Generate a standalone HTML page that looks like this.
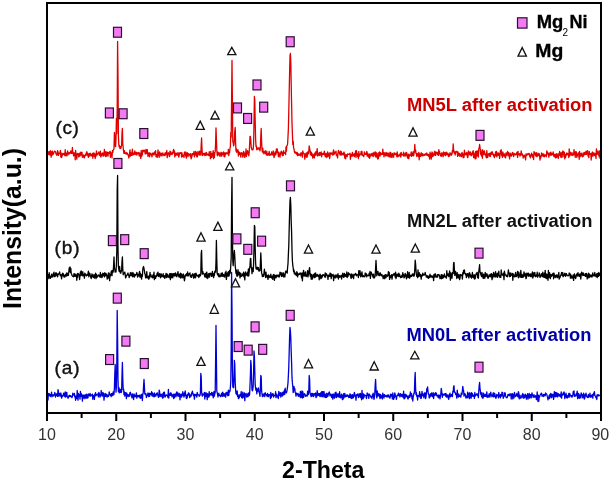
<!DOCTYPE html>
<html><head><meta charset="utf-8"><style>
html,body{margin:0;padding:0;background:#fff;}
body{width:611px;height:481px;overflow:hidden;}
svg{display:block;}
.sq{fill:#f47af4;stroke:#2a1030;stroke-width:1.2;}
.tr{fill:#fff;stroke:#111;stroke-width:1.3;stroke-linejoin:miter;}
.tl{font-family:"Liberation Sans",Arial,sans-serif;font-size:16px;fill:#333;text-anchor:middle;}
.b{font-family:"Liberation Sans",Arial,sans-serif;font-weight:bold;}
.r{font-family:"Liberation Sans",Arial,sans-serif;}
</style></head><body>
<svg width="611" height="481" viewBox="0 0 611 481">
<rect width="611" height="481" fill="#fff"/>
<polyline points="48.00,154.7 48.40,151.9 48.80,154.5 49.20,151.7 49.60,154.3 50.00,155.0 50.40,150.7 50.80,152.5 51.20,157.1 51.60,152.0 52.00,154.9 52.40,151.1 52.80,154.9 53.20,153.8 53.60,153.6 54.00,152.1 54.40,151.4 54.80,151.2 55.20,151.6 55.60,151.8 56.00,153.9 56.40,154.5 56.80,155.3 57.20,153.8 57.60,150.7 58.00,151.7 58.40,155.4 58.80,154.4 59.20,153.2 59.60,152.9 60.00,153.2 60.40,150.4 60.80,157.0 61.20,152.9 61.60,157.5 62.00,155.5 62.40,155.0 62.80,153.5 63.20,154.7 63.60,153.6 64.00,153.5 64.40,153.2 64.80,155.7 65.20,149.7 65.60,155.6 66.00,153.3 66.40,153.2 66.80,155.9 67.20,154.9 67.60,150.8 68.00,152.9 68.40,152.6 68.80,154.5 69.20,152.6 69.60,153.3 70.00,152.4 70.40,153.1 70.80,150.9 71.20,153.4 71.60,151.7 72.00,153.3 72.40,147.5 72.80,153.2 73.20,152.4 73.60,155.8 74.00,154.2 74.40,153.1 74.80,152.9 75.20,159.8 75.60,150.4 76.00,155.4 76.40,154.1 76.80,159.2 77.20,153.5 77.60,154.0 78.00,153.5 78.40,154.8 78.80,157.0 79.20,154.5 79.60,153.2 80.00,156.1 80.40,154.4 80.80,152.1 81.20,152.3 81.60,155.1 82.00,152.3 82.40,157.4 82.80,155.7 83.20,156.7 83.60,154.9 84.00,157.7 84.40,157.9 84.80,155.5 85.20,155.8 85.60,154.1 86.00,155.2 86.40,153.0 86.80,151.6 87.20,155.2 87.60,153.1 88.00,155.7 88.40,157.4 88.80,154.0 89.20,153.9 89.60,156.1 90.00,153.2 90.40,153.7 90.80,154.5 91.20,156.0 91.60,154.8 92.00,154.1 92.40,153.8 92.80,158.2 93.20,152.9 93.60,155.8 94.00,153.1 94.40,156.3 94.80,153.9 95.20,158.5 95.60,156.1 96.00,156.1 96.40,151.0 96.80,154.3 97.20,154.9 97.60,153.7 98.00,153.4 98.40,153.2 98.80,151.9 99.20,154.9 99.60,155.3 100.00,155.4 100.40,151.1 100.80,156.9 101.20,156.2 101.60,155.2 102.00,153.4 102.40,154.8 102.80,152.9 103.20,156.1 103.60,153.2 104.00,155.6 104.40,149.5 104.80,154.5 105.20,151.8 105.60,156.5 106.00,151.7 106.40,156.2 106.80,153.9 107.20,152.1 107.60,153.1 108.00,156.1 108.40,152.4 108.80,152.7 109.20,153.3 109.60,152.1 110.00,151.4 110.40,157.3 110.80,152.5 111.20,153.3 111.60,153.6 112.00,157.9 112.40,150.6 112.80,152.6 113.20,149.8 113.60,149.8 114.00,148.8 114.40,132.5 114.80,135.4 115.20,145.8 115.60,146.6 116.00,139.0 116.40,118.5 116.80,133.5 117.20,109.3 117.60,41.5 118.00,76.3 118.40,135.3 118.80,144.7 119.20,146.9 119.60,145.5 120.00,148.6 120.40,146.7 120.80,148.3 121.20,146.5 121.60,145.8 122.00,133.0 122.40,128.5 122.80,144.0 123.20,147.5 123.60,151.7 124.00,153.3 124.40,150.7 124.80,153.3 125.20,152.7 125.60,153.9 126.00,153.6 126.40,152.5 126.80,154.0 127.20,153.0 127.60,154.3 128.00,155.1 128.40,154.9 128.80,158.0 129.20,155.8 129.60,152.7 130.00,149.9 130.40,156.2 130.80,152.7 131.20,155.1 131.60,155.4 132.00,152.9 132.40,149.1 132.80,155.1 133.20,152.8 133.60,154.4 134.00,154.4 134.40,153.7 134.80,150.9 135.20,154.7 135.60,153.1 136.00,152.3 136.40,152.4 136.80,155.1 137.20,154.0 137.60,153.3 138.00,152.4 138.40,153.7 138.80,152.8 139.20,155.8 139.60,153.0 140.00,155.3 140.40,156.5 140.80,158.4 141.20,150.4 141.60,156.4 142.00,153.1 142.40,154.8 142.80,150.1 143.20,151.7 143.60,151.0 144.00,150.2 144.40,150.1 144.80,151.5 145.20,153.9 145.60,153.8 146.00,149.3 146.40,153.5 146.80,150.8 147.20,149.6 147.60,152.6 148.00,156.4 148.40,153.5 148.80,153.2 149.20,152.6 149.60,156.8 150.00,153.9 150.40,154.4 150.80,153.1 151.20,154.9 151.60,154.8 152.00,156.8 152.40,154.0 152.80,153.0 153.20,154.3 153.60,153.2 154.00,155.0 154.40,152.3 154.80,151.9 155.20,154.2 155.60,150.7 156.00,156.7 156.40,155.5 156.80,154.6 157.20,157.3 157.60,154.5 158.00,149.9 158.40,153.9 158.80,155.6 159.20,157.3 159.60,151.9 160.00,153.7 160.40,153.4 160.80,155.9 161.20,153.2 161.60,154.7 162.00,155.8 162.40,153.2 162.80,152.9 163.20,154.4 163.60,155.3 164.00,155.3 164.40,154.1 164.80,155.7 165.20,152.6 165.60,154.9 166.00,153.1 166.40,154.2 166.80,150.5 167.20,157.6 167.60,153.5 168.00,154.1 168.40,152.7 168.80,153.4 169.20,156.1 169.60,156.5 170.00,151.2 170.40,154.7 170.80,151.7 171.20,154.2 171.60,154.2 172.00,154.6 172.40,152.7 172.80,153.7 173.20,151.0 173.60,149.3 174.00,152.8 174.40,150.8 174.80,156.9 175.20,153.4 175.60,153.1 176.00,155.7 176.40,153.2 176.80,154.0 177.20,154.1 177.60,155.1 178.00,152.4 178.40,155.8 178.80,157.0 179.20,155.0 179.60,152.8 180.00,152.8 180.40,153.4 180.80,152.6 181.20,152.6 181.60,157.0 182.00,152.8 182.40,156.6 182.80,155.4 183.20,155.3 183.60,154.9 184.00,157.5 184.40,152.2 184.80,153.7 185.20,151.9 185.60,155.2 186.00,156.5 186.40,158.0 186.80,152.5 187.20,153.9 187.60,153.0 188.00,156.6 188.40,153.6 188.80,155.1 189.20,154.3 189.60,155.0 190.00,154.0 190.40,156.9 190.80,153.7 191.20,158.9 191.60,157.1 192.00,156.4 192.40,153.6 192.80,153.7 193.20,154.5 193.60,153.3 194.00,151.5 194.40,156.9 194.80,154.9 195.20,155.4 195.60,151.4 196.00,154.2 196.40,152.4 196.80,156.8 197.20,157.0 197.60,155.5 198.00,151.4 198.40,152.9 198.80,153.9 199.20,155.0 199.60,151.2 200.00,155.0 200.40,151.5 200.80,154.9 201.20,144.8 201.60,138.0 202.00,148.6 202.40,155.6 202.80,154.0 203.20,154.8 203.60,153.6 204.00,153.3 204.40,154.1 204.80,155.7 205.20,153.2 205.60,155.4 206.00,154.5 206.40,152.3 206.80,154.7 207.20,155.1 207.60,154.1 208.00,154.4 208.40,155.1 208.80,155.6 209.20,151.7 209.60,155.0 210.00,154.6 210.40,158.7 210.80,151.3 211.20,157.6 211.60,154.0 212.00,157.3 212.40,153.4 212.80,154.2 213.20,150.6 213.60,158.6 214.00,152.9 214.40,157.4 214.80,152.4 215.20,151.8 215.60,143.2 216.00,128.0 216.40,138.8 216.80,150.1 217.20,155.1 217.60,155.8 218.00,152.2 218.40,154.4 218.80,152.9 219.20,155.2 219.60,152.8 220.00,156.4 220.40,154.0 220.80,153.1 221.20,152.3 221.60,156.2 222.00,155.2 222.40,152.8 222.80,153.6 223.20,154.4 223.60,151.8 224.00,156.5 224.40,152.9 224.80,156.9 225.20,152.8 225.60,154.6 226.00,152.8 226.40,153.3 226.80,152.8 227.20,153.7 227.60,153.9 228.00,153.3 228.40,149.3 228.80,155.7 229.20,151.4 229.60,152.8 230.00,148.5 230.40,146.3 230.80,132.5 231.20,137.1 231.60,99.9 232.00,60.5 232.40,100.9 232.80,141.6 233.20,142.7 233.60,145.8 234.00,144.7 234.40,138.4 234.80,130.8 235.20,127.5 235.60,142.4 236.00,151.1 236.40,148.7 236.80,152.5 237.20,149.9 237.60,150.8 238.00,149.8 238.40,156.0 238.80,152.0 239.20,154.5 239.60,152.3 240.00,154.4 240.40,153.4 240.80,157.2 241.20,152.7 241.60,154.1 242.00,152.8 242.40,153.8 242.80,157.2 243.20,156.1 243.60,151.3 244.00,152.8 244.40,153.2 244.80,157.4 245.20,153.0 245.60,155.8 246.00,149.0 246.40,156.4 246.80,152.0 247.20,153.8 247.60,150.7 248.00,152.1 248.40,155.0 248.80,155.8 249.20,152.3 249.60,145.1 250.00,136.3 250.40,136.5 250.80,140.4 251.20,147.2 251.60,148.6 252.00,149.8 252.40,149.2 252.80,149.8 253.20,149.1 253.60,143.7 254.00,123.1 254.40,96.5 254.80,100.0 255.20,122.1 255.60,138.8 256.00,146.4 256.40,145.9 256.80,149.8 257.20,147.9 257.60,149.2 258.00,148.3 258.40,148.4 258.80,147.7 259.20,149.7 259.60,148.1 260.00,150.8 260.40,147.2 260.80,135.5 261.20,128.5 261.60,141.4 262.00,149.5 262.40,151.9 262.80,148.2 263.20,152.9 263.60,151.4 264.00,153.8 264.40,152.2 264.80,151.9 265.20,150.6 265.60,153.6 266.00,153.0 266.40,154.8 266.80,151.1 267.20,155.3 267.60,153.9 268.00,155.1 268.40,153.3 268.80,154.9 269.20,151.3 269.60,155.3 270.00,154.0 270.40,155.1 270.80,154.1 271.20,154.4 271.60,151.9 272.00,155.0 272.40,154.2 272.80,154.7 273.20,150.9 273.60,153.2 274.00,157.5 274.40,156.0 274.80,154.2 275.20,151.8 275.60,154.9 276.00,153.9 276.40,148.8 276.80,152.6 277.20,148.8 277.60,152.1 278.00,152.0 278.40,156.7 278.80,152.2 279.20,154.8 279.60,154.8 280.00,157.2 280.40,152.8 280.80,154.2 281.20,151.1 281.60,152.8 282.00,152.5 282.40,155.7 282.80,152.1 283.20,155.4 283.60,150.7 284.00,153.0 284.40,153.2 284.80,153.3 285.20,152.3 285.60,154.7 286.00,146.8 286.40,151.1 286.80,145.8 287.20,145.4 287.60,144.0 288.00,136.6 288.40,128.2 288.80,111.1 289.20,91.2 289.60,73.1 290.00,55.6 290.40,53.5 290.80,62.2 291.20,84.3 291.60,103.9 292.00,122.8 292.40,133.7 292.80,144.4 293.20,141.1 293.60,147.9 294.00,148.9 294.40,151.8 294.80,152.8 295.20,153.1 295.60,151.9 296.00,153.3 296.40,152.8 296.80,154.4 297.20,152.4 297.60,155.7 298.00,155.5 298.40,153.8 298.80,155.1 299.20,154.1 299.60,155.1 300.00,154.2 300.40,155.8 300.80,153.6 301.20,152.6 301.60,154.8 302.00,155.0 302.40,157.2 302.80,151.0 303.20,153.7 303.60,153.1 304.00,153.5 304.40,153.8 304.80,159.2 305.20,154.8 305.60,154.9 306.00,153.2 306.40,157.1 306.80,153.0 307.20,157.0 307.60,151.8 308.00,154.1 308.40,153.8 308.80,151.3 309.20,145.9 309.60,148.2 310.00,150.2 310.40,154.3 310.80,151.7 311.20,155.6 311.60,152.6 312.00,153.7 312.40,155.0 312.80,158.1 313.20,156.8 313.60,154.8 314.00,154.1 314.40,157.9 314.80,153.2 315.20,153.5 315.60,152.0 316.00,155.3 316.40,151.6 316.80,151.8 317.20,148.6 317.60,156.0 318.00,152.8 318.40,155.2 318.80,154.1 319.20,155.5 319.60,152.3 320.00,155.4 320.40,152.8 320.80,153.9 321.20,151.9 321.60,156.8 322.00,153.9 322.40,154.5 322.80,153.4 323.20,153.7 323.60,154.4 324.00,152.6 324.40,151.2 324.80,155.1 325.20,156.4 325.60,156.8 326.00,153.3 326.40,155.3 326.80,157.5 327.20,154.6 327.60,151.9 328.00,156.5 328.40,154.4 328.80,155.9 329.20,152.9 329.60,158.5 330.00,155.9 330.40,153.0 330.80,153.8 331.20,152.9 331.60,154.2 332.00,153.2 332.40,154.5 332.80,155.1 333.20,151.7 333.60,149.9 334.00,154.5 334.40,153.4 334.80,152.1 335.20,153.2 335.60,152.6 336.00,151.1 336.40,155.5 336.80,154.5 337.20,155.6 337.60,157.8 338.00,153.0 338.40,150.5 338.80,151.8 339.20,153.2 339.60,153.3 340.00,154.9 340.40,151.1 340.80,155.1 341.20,151.3 341.60,154.9 342.00,153.2 342.40,154.3 342.80,153.9 343.20,154.9 343.60,152.7 344.00,152.0 344.40,153.9 344.80,158.1 345.20,154.5 345.60,158.8 346.00,155.4 346.40,154.8 346.80,155.6 347.20,156.6 347.60,153.9 348.00,154.2 348.40,154.4 348.80,154.2 349.20,153.9 349.60,154.2 350.00,153.2 350.40,159.3 350.80,155.3 351.20,154.6 351.60,154.4 352.00,156.4 352.40,152.3 352.80,155.1 353.20,155.7 353.60,155.2 354.00,153.9 354.40,156.6 354.80,153.4 355.20,155.5 355.60,150.8 356.00,157.4 356.40,150.7 356.80,154.4 357.20,153.4 357.60,156.4 358.00,154.2 358.40,158.7 358.80,151.5 359.20,156.3 359.60,154.3 360.00,154.9 360.40,154.1 360.80,154.0 361.20,151.4 361.60,154.9 362.00,151.5 362.40,155.3 362.80,155.3 363.20,155.7 363.60,156.7 364.00,155.4 364.40,151.8 364.80,154.4 365.20,153.7 365.60,153.4 366.00,154.4 366.40,154.3 366.80,151.3 367.20,156.2 367.60,153.2 368.00,156.1 368.40,154.9 368.80,157.4 369.20,153.8 369.60,158.3 370.00,154.9 370.40,156.2 370.80,155.5 371.20,153.4 371.60,154.6 372.00,155.8 372.40,154.6 372.80,153.2 373.20,156.5 373.60,155.8 374.00,152.2 374.40,153.4 374.80,153.2 375.20,156.0 375.60,151.9 376.00,157.3 376.40,153.0 376.80,156.4 377.20,153.5 377.60,158.9 378.00,155.9 378.40,158.7 378.80,152.6 379.20,155.8 379.60,151.8 380.00,156.2 380.40,152.7 380.80,154.5 381.20,154.5 381.60,154.0 382.00,153.1 382.40,154.3 382.80,149.1 383.20,154.4 383.60,152.7 384.00,156.9 384.40,153.4 384.80,152.9 385.20,152.6 385.60,155.8 386.00,154.6 386.40,155.0 386.80,152.4 387.20,156.2 387.60,153.6 388.00,154.6 388.40,153.2 388.80,156.7 389.20,154.2 389.60,156.9 390.00,152.1 390.40,157.0 390.80,152.7 391.20,155.0 391.60,157.1 392.00,157.5 392.40,153.5 392.80,155.1 393.20,154.6 393.60,157.2 394.00,153.0 394.40,153.3 394.80,152.9 395.20,154.6 395.60,154.1 396.00,154.0 396.40,153.6 396.80,156.7 397.20,151.9 397.60,156.2 398.00,156.9 398.40,155.8 398.80,154.8 399.20,155.7 399.60,155.8 400.00,154.1 400.40,153.2 400.80,157.1 401.20,152.3 401.60,155.1 402.00,154.6 402.40,154.3 402.80,154.6 403.20,155.5 403.60,152.2 404.00,156.3 404.40,154.0 404.80,154.3 405.20,154.0 405.60,155.9 406.00,152.3 406.40,155.0 406.80,153.0 407.20,156.5 407.60,158.0 408.00,158.3 408.40,154.1 408.80,158.6 409.20,154.4 409.60,156.1 410.00,155.5 410.40,155.1 410.80,154.4 411.20,151.8 411.60,156.4 412.00,155.5 412.40,153.1 412.80,155.3 413.20,151.7 413.60,155.8 414.00,153.7 414.40,151.4 414.80,144.3 415.20,151.8 415.60,149.9 416.00,153.4 416.40,153.7 416.80,156.5 417.20,153.4 417.60,153.9 418.00,154.3 418.40,156.5 418.80,152.3 419.20,159.8 419.60,153.8 420.00,154.9 420.40,156.4 420.80,155.6 421.20,152.6 421.60,154.6 422.00,155.9 422.40,154.6 422.80,153.6 423.20,155.8 423.60,154.9 424.00,154.8 424.40,155.1 424.80,155.4 425.20,153.6 425.60,154.0 426.00,154.5 426.40,155.0 426.80,153.0 427.20,154.1 427.60,155.5 428.00,155.5 428.40,154.3 428.80,156.5 429.20,155.0 429.60,159.0 430.00,152.2 430.40,156.0 430.80,153.6 431.20,159.2 431.60,156.4 432.00,152.0 432.40,152.7 432.80,156.5 433.20,154.2 433.60,155.7 434.00,153.8 434.40,152.1 434.80,151.2 435.20,155.4 435.60,155.4 436.00,152.2 436.40,152.2 436.80,153.6 437.20,152.9 437.60,154.5 438.00,152.2 438.40,155.4 438.80,149.6 439.20,153.2 439.60,151.6 440.00,154.8 440.40,154.2 440.80,156.0 441.20,153.6 441.60,156.1 442.00,152.7 442.40,154.8 442.80,154.3 443.20,156.7 443.60,152.0 444.00,153.0 444.40,153.0 444.80,155.1 445.20,152.4 445.60,155.6 446.00,153.2 446.40,154.7 446.80,152.2 447.20,154.7 447.60,153.7 448.00,153.5 448.40,156.5 448.80,154.5 449.20,156.0 449.60,156.0 450.00,152.7 450.40,153.6 450.80,154.1 451.20,155.3 451.60,153.1 452.00,154.3 452.40,150.3 452.80,152.1 453.20,144.0 453.60,150.1 454.00,150.6 454.40,153.3 454.80,152.5 455.20,155.0 455.60,151.7 456.00,151.8 456.40,152.1 456.80,151.3 457.20,151.9 457.60,156.4 458.00,152.0 458.40,155.1 458.80,153.4 459.20,155.5 459.60,153.5 460.00,156.5 460.40,154.7 460.80,154.5 461.20,154.0 461.60,156.6 462.00,152.5 462.40,155.4 462.80,153.5 463.20,157.8 463.60,155.7 464.00,157.4 464.40,150.2 464.80,154.1 465.20,154.9 465.60,154.0 466.00,153.1 466.40,154.5 466.80,152.3 467.20,155.8 467.60,157.7 468.00,156.8 468.40,151.0 468.80,151.6 469.20,153.6 469.60,154.9 470.00,152.4 470.40,152.0 470.80,154.8 471.20,155.9 471.60,153.7 472.00,154.8 472.40,152.0 472.80,153.7 473.20,150.6 473.60,157.5 474.00,153.0 474.40,157.1 474.80,157.2 475.20,158.9 475.60,151.4 476.00,158.5 476.40,155.4 476.80,150.9 477.20,151.6 477.60,156.0 478.00,150.9 478.40,157.0 478.80,148.6 479.20,147.8 479.60,144.5 480.00,147.4 480.40,150.7 480.80,154.6 481.20,153.2 481.60,156.1 482.00,150.0 482.40,158.3 482.80,150.0 483.20,154.7 483.60,154.5 484.00,151.9 484.40,150.9 484.80,154.2 485.20,155.0 485.60,154.0 486.00,156.6 486.40,157.9 486.80,150.6 487.20,154.9 487.60,157.5 488.00,156.0 488.40,153.8 488.80,154.6 489.20,153.5 489.60,156.1 490.00,153.2 490.40,156.4 490.80,153.0 491.20,154.1 491.60,151.9 492.00,154.4 492.40,152.0 492.80,154.1 493.20,154.0 493.60,156.1 494.00,155.0 494.40,157.6 494.80,154.3 495.20,155.0 495.60,152.0 496.00,155.9 496.40,151.4 496.80,156.8 497.20,154.0 497.60,155.0 498.00,152.7 498.40,155.4 498.80,154.5 499.20,153.6 499.60,158.4 500.00,155.1 500.40,150.7 500.80,153.2 501.20,149.7 501.60,155.3 502.00,155.4 502.40,157.4 502.80,152.0 503.20,153.4 503.60,156.0 504.00,155.3 504.40,153.9 504.80,156.6 505.20,157.5 505.60,157.9 506.00,152.8 506.40,155.3 506.80,153.0 507.20,153.9 507.60,151.5 508.00,155.8 508.40,152.7 508.80,154.9 509.20,154.6 509.60,158.9 510.00,152.9 510.40,154.8 510.80,153.8 511.20,156.2 511.60,155.9 512.00,154.7 512.40,152.5 512.80,152.7 513.20,153.3 513.60,156.7 514.00,154.6 514.40,153.9 514.80,153.5 515.20,154.9 515.60,154.7 516.00,154.7 516.40,153.8 516.80,152.7 517.20,152.1 517.60,157.4 518.00,151.4 518.40,154.5 518.80,154.5 519.20,154.7 519.60,153.6 520.00,156.2 520.40,153.6 520.80,155.1 521.20,150.8 521.60,154.8 522.00,153.4 522.40,155.0 522.80,155.1 523.20,158.1 523.60,156.1 524.00,155.4 524.40,155.2 524.80,157.1 525.20,156.5 525.60,159.8 526.00,154.0 526.40,155.6 526.80,155.6 527.20,154.0 527.60,153.9 528.00,154.4 528.40,153.8 528.80,153.3 529.20,153.5 529.60,156.1 530.00,156.1 530.40,157.8 530.80,154.7 531.20,155.0 531.60,153.2 532.00,156.1 532.40,154.4 532.80,157.4 533.20,156.7 533.60,159.5 534.00,151.6 534.40,154.1 534.80,152.4 535.20,153.9 535.60,155.9 536.00,155.7 536.40,152.7 536.80,156.7 537.20,156.3 537.60,155.6 538.00,153.2 538.40,155.5 538.80,155.1 539.20,153.7 539.60,156.3 540.00,160.0 540.40,155.9 540.80,158.0 541.20,155.8 541.60,152.8 542.00,153.7 542.40,155.5 542.80,154.3 543.20,156.5 543.60,153.9 544.00,154.7 544.40,156.8 544.80,156.1 545.20,154.8 545.60,154.9 546.00,155.2 546.40,156.6 546.80,150.9 547.20,154.1 547.60,152.1 548.00,153.8 548.40,154.1 548.80,157.1 549.20,153.1 549.60,154.3 550.00,155.1 550.40,152.6 550.80,152.1 551.20,155.4 551.60,153.5 552.00,153.7 552.40,154.5 552.80,154.7 553.20,151.8 553.60,156.0 554.00,154.2 554.40,156.8 554.80,154.7 555.20,154.4 555.60,157.8 556.00,154.7 556.40,153.8 556.80,157.5 557.20,153.8 557.60,156.3 558.00,155.1 558.40,158.3 558.80,153.7 559.20,153.9 559.60,151.5 560.00,155.5 560.40,155.0 560.80,157.1 561.20,152.4 561.60,156.3 562.00,157.5 562.40,154.9 562.80,151.0 563.20,153.3 563.60,151.7 564.00,156.8 564.40,152.3 564.80,158.9 565.20,154.4 565.60,157.4 566.00,154.9 566.40,154.7 566.80,153.0 567.20,154.9 567.60,153.5 568.00,154.1 568.40,154.0 568.80,157.5 569.20,148.8 569.60,155.9 570.00,152.6 570.40,152.2 570.80,154.6 571.20,155.2 571.60,155.1 572.00,152.6 572.40,154.6 572.80,155.5 573.20,154.2 573.60,154.8 574.00,149.6 574.40,153.6 574.80,153.0 575.20,157.3 575.60,151.7 576.00,154.8 576.40,151.9 576.80,157.4 577.20,156.1 577.60,154.7 578.00,153.7 578.40,152.9 578.80,155.3 579.20,159.3 579.60,151.3 580.00,156.8 580.40,153.5 580.80,154.0 581.20,155.9 581.60,153.8 582.00,153.0 582.40,156.8 582.80,155.2 583.20,156.3 583.60,154.0 584.00,152.5 584.40,152.5 584.80,154.9 585.20,152.9 585.60,154.2 586.00,151.2 586.40,154.3 586.80,151.4 587.20,153.5 587.60,150.6 588.00,156.0 588.40,154.6 588.80,157.7 589.20,151.3 589.60,154.0 590.00,154.4 590.40,154.4 590.80,153.5 591.20,160.0 591.60,153.5 592.00,152.8 592.40,152.0 592.80,156.3 593.20,153.8 593.60,152.8 594.00,152.8 594.40,155.5 594.80,154.7 595.20,153.6 595.60,155.1 596.00,158.5 596.40,148.8 596.80,154.3 597.20,154.0 597.60,154.0 598.00,150.9 598.40,155.0 598.80,154.3 599.20,156.6 599.60,150.9 600.00,158.6" fill="none" stroke="#e00000" stroke-width="1.3" stroke-linejoin="round"/>
<polyline points="48.00,275.3 48.40,274.7 48.80,278.7 49.20,272.7 49.60,276.2 50.00,276.6 50.40,278.4 50.80,276.2 51.20,277.1 51.60,274.1 52.00,277.0 52.40,275.5 52.80,276.8 53.20,273.9 53.60,273.7 54.00,272.2 54.40,276.7 54.80,276.7 55.20,276.3 55.60,273.0 56.00,274.6 56.40,273.0 56.80,275.6 57.20,275.6 57.60,276.8 58.00,273.7 58.40,274.5 58.80,273.9 59.20,273.9 59.60,271.8 60.00,274.3 60.40,275.7 60.80,274.8 61.20,276.3 61.60,278.8 62.00,274.1 62.40,275.9 62.80,273.2 63.20,273.6 63.60,275.7 64.00,277.0 64.40,275.3 64.80,277.2 65.20,274.9 65.60,275.9 66.00,274.2 66.40,276.1 66.80,272.9 67.20,275.7 67.60,274.3 68.00,273.1 68.40,275.3 68.80,272.0 69.20,268.0 69.60,271.3 70.00,267.0 70.40,272.4 70.80,268.4 71.20,273.5 71.60,274.1 72.00,275.3 72.40,275.9 72.80,276.4 73.20,276.2 73.60,276.7 74.00,273.6 74.40,276.4 74.80,274.0 75.20,274.2 75.60,276.3 76.00,276.4 76.40,275.0 76.80,280.3 77.20,274.0 77.60,277.2 78.00,273.3 78.40,274.7 78.80,274.5 79.20,275.1 79.60,279.5 80.00,275.0 80.40,272.0 80.80,275.6 81.20,270.9 81.60,273.3 82.00,275.0 82.40,275.7 82.80,271.7 83.20,275.6 83.60,274.5 84.00,275.3 84.40,278.2 84.80,273.1 85.20,275.1 85.60,274.1 86.00,275.0 86.40,275.9 86.80,274.9 87.20,275.4 87.60,274.6 88.00,273.6 88.40,271.1 88.80,276.8 89.20,273.3 89.60,273.2 90.00,273.8 90.40,276.3 90.80,277.3 91.20,278.6 91.60,276.0 92.00,274.0 92.40,274.7 92.80,276.9 93.20,277.4 93.60,277.0 94.00,274.5 94.40,278.1 94.80,276.3 95.20,276.9 95.60,273.2 96.00,278.6 96.40,274.4 96.80,277.3 97.20,277.0 97.60,276.9 98.00,275.4 98.40,275.2 98.80,275.0 99.20,275.9 99.60,276.6 100.00,277.1 100.40,272.5 100.80,277.2 101.20,274.6 101.60,275.4 102.00,277.7 102.40,275.8 102.80,273.1 103.20,275.7 103.60,273.6 104.00,274.3 104.40,276.9 104.80,272.6 105.20,274.6 105.60,275.9 106.00,273.5 106.40,274.1 106.80,275.4 107.20,279.1 107.60,275.3 108.00,278.2 108.40,273.0 108.80,277.8 109.20,273.2 109.60,280.7 110.00,276.1 110.40,275.7 110.80,274.5 111.20,271.6 111.60,270.9 112.00,275.6 112.40,270.4 112.80,270.8 113.20,272.1 113.60,265.5 114.00,257.0 114.40,267.3 114.80,269.7 115.20,272.2 115.60,269.9 116.00,271.9 116.40,264.7 116.80,251.2 117.20,190.3 117.60,175.5 118.00,248.4 118.40,266.5 118.80,269.5 119.20,271.3 119.60,266.4 120.00,271.5 120.40,273.0 120.80,273.2 121.20,270.5 121.60,271.0 122.00,261.5 122.40,257.0 122.80,269.1 123.20,274.8 123.60,273.7 124.00,273.7 124.40,272.7 124.80,272.1 125.20,274.4 125.60,277.9 126.00,277.1 126.40,275.5 126.80,275.2 127.20,275.1 127.60,273.7 128.00,273.0 128.40,275.2 128.80,274.9 129.20,277.6 129.60,275.7 130.00,275.4 130.40,272.7 130.80,275.7 131.20,275.6 131.60,274.1 132.00,272.3 132.40,276.5 132.80,276.9 133.20,272.9 133.60,275.8 134.00,275.7 134.40,277.1 134.80,274.1 135.20,275.9 135.60,274.8 136.00,274.6 136.40,274.5 136.80,272.4 137.20,273.7 137.60,277.1 138.00,275.1 138.40,274.4 138.80,275.9 139.20,272.9 139.60,271.4 140.00,277.3 140.40,273.4 140.80,275.1 141.20,276.7 141.60,279.1 142.00,274.4 142.40,276.3 142.80,269.3 143.20,267.2 143.60,266.5 144.00,268.7 144.40,270.7 144.80,273.7 145.20,274.3 145.60,277.9 146.00,277.7 146.40,275.5 146.80,271.6 147.20,277.9 147.60,276.6 148.00,276.4 148.40,278.7 148.80,279.2 149.20,275.7 149.60,277.9 150.00,272.3 150.40,275.5 150.80,274.7 151.20,276.8 151.60,276.2 152.00,276.2 152.40,277.9 152.80,275.3 153.20,274.9 153.60,277.7 154.00,272.2 154.40,279.6 154.80,276.3 155.20,275.8 155.60,278.3 156.00,276.5 156.40,276.3 156.80,275.1 157.20,273.2 157.60,275.7 158.00,272.1 158.40,276.3 158.80,276.5 159.20,275.5 159.60,273.6 160.00,273.6 160.40,277.8 160.80,276.6 161.20,274.0 161.60,274.8 162.00,276.8 162.40,275.6 162.80,276.1 163.20,273.7 163.60,277.2 164.00,276.9 164.40,275.6 164.80,278.3 165.20,275.6 165.60,276.6 166.00,273.3 166.40,277.5 166.80,273.9 167.20,276.8 167.60,274.4 168.00,277.1 168.40,276.1 168.80,276.0 169.20,277.6 169.60,273.8 170.00,273.6 170.40,279.6 170.80,274.6 171.20,273.5 171.60,277.7 172.00,276.8 172.40,273.8 172.80,277.8 173.20,273.6 173.60,274.6 174.00,274.0 174.40,276.0 174.80,273.4 175.20,275.3 175.60,273.0 176.00,276.0 176.40,276.6 176.80,276.7 177.20,273.9 177.60,273.9 178.00,271.6 178.40,275.7 178.80,276.5 179.20,277.1 179.60,274.3 180.00,277.2 180.40,273.2 180.80,278.1 181.20,273.6 181.60,277.2 182.00,274.9 182.40,276.3 182.80,277.9 183.20,274.0 183.60,275.0 184.00,277.3 184.40,280.8 184.80,278.8 185.20,275.3 185.60,274.8 186.00,275.7 186.40,274.0 186.80,273.6 187.20,275.8 187.60,272.0 188.00,275.0 188.40,275.9 188.80,274.6 189.20,273.5 189.60,274.5 190.00,273.0 190.40,276.8 190.80,275.7 191.20,277.1 191.60,277.3 192.00,274.6 192.40,275.1 192.80,273.7 193.20,274.8 193.60,278.1 194.00,277.0 194.40,274.6 194.80,273.7 195.20,277.9 195.60,277.5 196.00,273.2 196.40,274.3 196.80,275.6 197.20,275.4 197.60,276.1 198.00,276.0 198.40,275.0 198.80,277.5 199.20,276.6 199.60,274.4 200.00,275.3 200.40,275.8 200.80,273.6 201.20,253.5 201.60,250.5 202.00,268.4 202.40,274.2 202.80,271.4 203.20,273.3 203.60,273.5 204.00,274.1 204.40,275.1 204.80,276.8 205.20,273.5 205.60,273.8 206.00,277.3 206.40,273.1 206.80,272.1 207.20,278.5 207.60,275.1 208.00,277.9 208.40,273.9 208.80,276.8 209.20,273.4 209.60,277.0 210.00,273.3 210.40,274.6 210.80,273.2 211.20,274.3 211.60,276.4 212.00,276.3 212.40,271.3 212.80,274.8 213.20,273.8 213.60,277.6 214.00,273.3 214.40,275.5 214.80,271.2 215.20,270.9 215.60,272.2 216.00,261.9 216.40,240.5 216.80,259.9 217.20,273.6 217.60,274.9 218.00,273.8 218.40,276.1 218.80,273.6 219.20,276.8 219.60,275.3 220.00,275.3 220.40,276.7 220.80,275.3 221.20,273.1 221.60,274.7 222.00,276.3 222.40,273.0 222.80,276.2 223.20,275.5 223.60,274.5 224.00,276.5 224.40,274.9 224.80,277.1 225.20,272.7 225.60,275.1 226.00,271.2 226.40,279.4 226.80,275.3 227.20,273.2 227.60,272.9 228.00,276.1 228.40,271.6 228.80,276.1 229.20,275.5 229.60,270.4 230.00,273.5 230.40,271.8 230.80,264.6 231.20,257.6 231.60,204.9 232.00,177.5 232.40,235.3 232.80,260.9 233.20,265.6 233.60,257.5 234.00,254.0 234.40,250.5 234.80,256.7 235.20,265.5 235.60,269.3 236.00,273.5 236.40,270.2 236.80,276.0 237.20,273.5 237.60,276.0 238.00,269.7 238.40,273.7 238.80,274.8 239.20,272.2 239.60,272.7 240.00,277.9 240.40,275.8 240.80,273.1 241.20,276.3 241.60,276.3 242.00,275.0 242.40,275.1 242.80,273.6 243.20,275.8 243.60,272.1 244.00,277.0 244.40,273.8 244.80,279.9 245.20,273.3 245.60,271.9 246.00,275.2 246.40,275.0 246.80,273.5 247.20,275.4 247.60,272.2 248.00,276.2 248.40,268.9 248.80,275.8 249.20,271.7 249.60,268.3 250.00,265.9 250.40,258.5 250.80,258.7 251.20,267.7 251.60,267.6 252.00,273.6 252.40,267.8 252.80,269.9 253.20,271.7 253.60,263.6 254.00,247.6 254.40,225.5 254.80,226.7 255.20,248.6 255.60,262.9 256.00,268.4 256.40,269.2 256.80,269.2 257.20,267.1 257.60,268.3 258.00,269.7 258.40,267.7 258.80,271.0 259.20,271.1 259.60,269.4 260.00,270.7 260.40,262.8 260.80,253.0 261.20,261.6 261.60,273.0 262.00,274.1 262.40,276.7 262.80,275.3 263.20,274.6 263.60,276.3 264.00,272.8 264.40,269.2 264.80,273.3 265.20,274.2 265.60,277.5 266.00,272.2 266.40,277.0 266.80,276.9 267.20,275.4 267.60,276.8 268.00,279.4 268.40,274.8 268.80,275.3 269.20,277.6 269.60,276.1 270.00,276.9 270.40,277.3 270.80,274.2 271.20,277.4 271.60,276.3 272.00,278.3 272.40,276.2 272.80,279.4 273.20,275.0 273.60,277.1 274.00,274.4 274.40,280.3 274.80,277.3 275.20,275.3 275.60,276.8 276.00,277.8 276.40,275.1 276.80,276.8 277.20,276.0 277.60,275.3 278.00,274.9 278.40,276.7 278.80,275.3 279.20,277.0 279.60,276.1 280.00,272.1 280.40,274.1 280.80,274.8 281.20,272.7 281.60,276.5 282.00,275.8 282.40,276.1 282.80,273.2 283.20,272.7 283.60,276.9 284.00,274.1 284.40,274.3 284.80,276.9 285.20,274.1 285.60,271.4 286.00,271.2 286.40,272.3 286.80,271.0 287.20,273.2 287.60,267.4 288.00,263.8 288.40,253.9 288.80,245.2 289.20,228.4 289.60,213.5 290.00,200.8 290.40,197.5 290.80,205.0 291.20,221.4 291.60,231.8 292.00,250.2 292.40,261.0 292.80,265.3 293.20,268.0 293.60,271.6 294.00,270.0 294.40,273.9 294.80,272.2 295.20,273.3 295.60,274.7 296.00,274.0 296.40,275.5 296.80,271.7 297.20,272.4 297.60,276.9 298.00,273.6 298.40,274.2 298.80,274.8 299.20,273.8 299.60,274.3 300.00,272.8 300.40,273.9 300.80,273.4 301.20,275.2 301.60,277.8 302.00,273.0 302.40,280.8 302.80,274.3 303.20,273.1 303.60,270.3 304.00,276.0 304.40,275.0 304.80,275.7 305.20,272.3 305.60,272.0 306.00,276.5 306.40,276.2 306.80,275.0 307.20,275.9 307.60,270.6 308.00,276.9 308.40,274.5 308.80,273.4 309.20,269.5 309.60,267.6 310.00,274.5 310.40,276.3 310.80,274.0 311.20,279.3 311.60,274.7 312.00,278.7 312.40,279.0 312.80,276.8 313.20,274.5 313.60,276.8 314.00,274.3 314.40,277.6 314.80,273.3 315.20,277.3 315.60,273.0 316.00,276.5 316.40,275.1 316.80,276.1 317.20,274.4 317.60,275.1 318.00,276.3 318.40,275.1 318.80,275.9 319.20,279.8 319.60,275.7 320.00,274.1 320.40,275.1 320.80,278.6 321.20,275.3 321.60,278.2 322.00,276.3 322.40,276.8 322.80,274.6 323.20,275.5 323.60,274.9 324.00,275.4 324.40,275.6 324.80,277.1 325.20,272.8 325.60,277.2 326.00,273.6 326.40,273.8 326.80,274.4 327.20,275.4 327.60,275.6 328.00,279.4 328.40,275.2 328.80,275.4 329.20,275.5 329.60,276.5 330.00,273.2 330.40,276.3 330.80,273.3 331.20,278.7 331.60,274.5 332.00,275.5 332.40,275.1 332.80,276.2 333.20,274.5 333.60,280.7 334.00,275.8 334.40,277.8 334.80,277.4 335.20,275.0 335.60,277.8 336.00,277.7 336.40,276.2 336.80,275.0 337.20,276.4 337.60,277.2 338.00,273.7 338.40,279.0 338.80,275.9 339.20,276.5 339.60,275.7 340.00,277.3 340.40,276.5 340.80,276.4 341.20,275.2 341.60,279.0 342.00,275.8 342.40,276.3 342.80,273.1 343.20,276.2 343.60,277.4 344.00,277.3 344.40,273.3 344.80,274.9 345.20,276.3 345.60,274.6 346.00,274.5 346.40,276.7 346.80,272.0 347.20,277.5 347.60,275.4 348.00,276.4 348.40,272.6 348.80,274.8 349.20,273.9 349.60,273.8 350.00,274.2 350.40,275.5 350.80,277.2 351.20,278.5 351.60,273.8 352.00,275.0 352.40,277.2 352.80,275.0 353.20,276.5 353.60,278.5 354.00,274.2 354.40,275.1 354.80,274.4 355.20,274.5 355.60,273.4 356.00,274.5 356.40,275.9 356.80,274.4 357.20,274.5 357.60,275.1 358.00,275.4 358.40,277.5 358.80,270.6 359.20,275.2 359.60,274.9 360.00,270.7 360.40,275.2 360.80,276.8 361.20,273.3 361.60,275.9 362.00,271.8 362.40,276.6 362.80,276.7 363.20,275.4 363.60,276.7 364.00,276.6 364.40,276.2 364.80,276.8 365.20,273.0 365.60,275.5 366.00,274.4 366.40,273.7 366.80,276.9 367.20,275.2 367.60,275.3 368.00,275.3 368.40,275.2 368.80,275.8 369.20,273.1 369.60,275.7 370.00,271.5 370.40,278.4 370.80,272.6 371.20,272.2 371.60,273.4 372.00,274.1 372.40,275.8 372.80,274.6 373.20,277.4 373.60,274.1 374.00,278.2 374.40,277.3 374.80,277.1 375.20,275.6 375.60,268.1 376.00,260.5 376.40,267.8 376.80,275.8 377.20,271.5 377.60,273.7 378.00,271.4 378.40,275.0 378.80,273.9 379.20,275.5 379.60,273.2 380.00,275.6 380.40,272.8 380.80,274.3 381.20,274.3 381.60,275.9 382.00,274.6 382.40,275.8 382.80,276.5 383.20,278.6 383.60,275.8 384.00,275.5 384.40,277.9 384.80,278.7 385.20,274.6 385.60,275.6 386.00,277.6 386.40,274.8 386.80,275.0 387.20,275.8 387.60,276.2 388.00,275.6 388.40,271.6 388.80,275.1 389.20,272.4 389.60,279.4 390.00,277.3 390.40,277.5 390.80,275.4 391.20,277.2 391.60,274.6 392.00,279.1 392.40,276.7 392.80,274.7 393.20,275.3 393.60,275.0 394.00,273.3 394.40,274.3 394.80,275.1 395.20,277.1 395.60,272.1 396.00,278.6 396.40,276.8 396.80,275.1 397.20,274.0 397.60,275.4 398.00,276.4 398.40,275.1 398.80,273.2 399.20,276.6 399.60,274.5 400.00,275.8 400.40,277.0 400.80,277.7 401.20,276.2 401.60,277.3 402.00,275.2 402.40,276.9 402.80,272.6 403.20,275.7 403.60,274.7 404.00,277.9 404.40,277.4 404.80,276.4 405.20,273.4 405.60,274.7 406.00,274.6 406.40,278.8 406.80,275.7 407.20,277.2 407.60,271.7 408.00,277.7 408.40,277.6 408.80,276.0 409.20,272.3 409.60,278.2 410.00,274.9 410.40,276.8 410.80,276.2 411.20,275.5 411.60,276.5 412.00,275.1 412.40,273.9 412.80,275.3 413.20,273.8 413.60,276.2 414.00,276.2 414.40,274.9 414.80,268.9 415.20,260.2 415.60,263.9 416.00,270.3 416.40,274.3 416.80,276.4 417.20,275.1 417.60,277.7 418.00,269.8 418.40,276.7 418.80,274.7 419.20,272.7 419.60,274.5 420.00,276.4 420.40,274.5 420.80,275.0 421.20,279.2 421.60,275.4 422.00,275.6 422.40,275.9 422.80,273.2 423.20,275.2 423.60,275.2 424.00,274.5 424.40,274.3 424.80,274.9 425.20,272.4 425.60,275.0 426.00,275.0 426.40,277.1 426.80,275.8 427.20,275.7 427.60,277.7 428.00,277.1 428.40,278.4 428.80,276.1 429.20,275.9 429.60,277.7 430.00,274.2 430.40,277.0 430.80,276.0 431.20,275.7 431.60,276.2 432.00,277.5 432.40,276.6 432.80,276.0 433.20,276.1 433.60,280.7 434.00,274.3 434.40,277.3 434.80,276.6 435.20,273.6 435.60,276.5 436.00,277.2 436.40,277.1 436.80,276.3 437.20,274.6 437.60,277.2 438.00,275.2 438.40,274.5 438.80,274.8 439.20,274.8 439.60,276.1 440.00,278.7 440.40,277.7 440.80,278.0 441.20,274.6 441.60,278.8 442.00,274.7 442.40,277.4 442.80,278.3 443.20,275.4 443.60,277.3 444.00,276.6 444.40,274.0 444.80,276.8 445.20,276.1 445.60,277.1 446.00,277.3 446.40,278.1 446.80,270.7 447.20,275.7 447.60,274.0 448.00,275.5 448.40,274.0 448.80,276.6 449.20,274.3 449.60,271.0 450.00,275.0 450.40,280.2 450.80,272.9 451.20,275.3 451.60,277.9 452.00,278.2 452.40,272.6 452.80,273.7 453.20,273.7 453.60,263.0 454.00,262.5 454.40,269.7 454.80,275.4 455.20,273.1 455.60,271.5 456.00,274.2 456.40,275.8 456.80,278.5 457.20,272.6 457.60,277.2 458.00,276.2 458.40,277.8 458.80,274.4 459.20,276.9 459.60,279.6 460.00,278.3 460.40,274.5 460.80,275.5 461.20,274.8 461.60,275.0 462.00,275.4 462.40,279.0 462.80,272.7 463.20,274.2 463.60,270.3 464.00,273.0 464.40,269.8 464.80,273.4 465.20,273.6 465.60,274.9 466.00,273.6 466.40,277.6 466.80,276.2 467.20,274.4 467.60,273.6 468.00,275.9 468.40,274.1 468.80,277.9 469.20,273.1 469.60,272.8 470.00,274.2 470.40,276.9 470.80,275.1 471.20,277.1 471.60,278.2 472.00,275.9 472.40,272.5 472.80,277.2 473.20,275.4 473.60,277.7 474.00,274.8 474.40,279.0 474.80,274.9 475.20,278.6 475.60,275.3 476.00,274.9 476.40,273.1 476.80,273.2 477.20,272.4 477.60,277.5 478.00,276.0 478.40,278.3 478.80,271.3 479.20,268.7 479.60,264.6 480.00,272.1 480.40,272.4 480.80,274.5 481.20,275.6 481.60,276.6 482.00,272.4 482.40,276.6 482.80,275.1 483.20,278.4 483.60,274.1 484.00,278.2 484.40,276.4 484.80,278.1 485.20,272.4 485.60,274.5 486.00,276.7 486.40,274.7 486.80,273.7 487.20,274.6 487.60,277.0 488.00,278.3 488.40,278.0 488.80,276.0 489.20,274.8 489.60,275.5 490.00,276.4 490.40,274.1 490.80,276.9 491.20,275.2 491.60,273.6 492.00,279.6 492.40,274.8 492.80,278.0 493.20,275.6 493.60,272.3 494.00,276.0 494.40,274.3 494.80,276.8 495.20,273.8 495.60,271.6 496.00,277.0 496.40,275.1 496.80,276.0 497.20,273.4 497.60,277.3 498.00,273.1 498.40,275.3 498.80,271.2 499.20,276.0 499.60,276.7 500.00,277.5 500.40,275.4 500.80,277.4 501.20,270.0 501.60,274.6 502.00,274.9 502.40,274.7 502.80,275.4 503.20,273.2 503.60,275.3 504.00,279.6 504.40,271.2 504.80,273.5 505.20,275.1 505.60,274.9 506.00,274.9 506.40,276.4 506.80,275.5 507.20,275.5 507.60,276.8 508.00,273.2 508.40,269.8 508.80,273.6 509.20,272.8 509.60,276.6 510.00,273.5 510.40,276.4 510.80,273.0 511.20,275.1 511.60,274.7 512.00,275.6 512.40,273.3 512.80,280.3 513.20,274.2 513.60,274.0 514.00,275.5 514.40,276.8 514.80,276.7 515.20,276.0 515.60,272.3 516.00,276.7 516.40,276.4 516.80,276.0 517.20,274.5 517.60,271.4 518.00,273.9 518.40,277.8 518.80,272.1 519.20,274.4 519.60,275.2 520.00,277.1 520.40,277.1 520.80,270.3 521.20,274.9 521.60,277.4 522.00,274.4 522.40,274.9 522.80,277.3 523.20,277.1 523.60,275.5 524.00,271.8 524.40,274.5 524.80,276.2 525.20,273.5 525.60,275.6 526.00,278.6 526.40,277.9 526.80,273.1 527.20,276.0 527.60,273.4 528.00,274.5 528.40,273.1 528.80,276.4 529.20,274.6 529.60,274.3 530.00,274.2 530.40,276.3 530.80,273.9 531.20,276.9 531.60,275.4 532.00,274.8 532.40,272.0 532.80,278.0 533.20,276.1 533.60,272.8 534.00,276.0 534.40,274.4 534.80,272.4 535.20,276.0 535.60,276.7 536.00,276.0 536.40,274.9 536.80,276.0 537.20,272.2 537.60,277.2 538.00,275.9 538.40,275.7 538.80,275.7 539.20,272.8 539.60,273.9 540.00,277.4 540.40,277.0 540.80,276.4 541.20,274.7 541.60,273.7 542.00,274.0 542.40,276.6 542.80,272.1 543.20,276.8 543.60,276.0 544.00,277.4 544.40,273.1 544.80,277.3 545.20,270.3 545.60,278.0 546.00,273.7 546.40,274.4 546.80,278.7 547.20,277.6 547.60,274.5 548.00,280.3 548.40,270.5 548.80,277.5 549.20,277.1 549.60,272.7 550.00,276.9 550.40,278.6 550.80,274.4 551.20,276.5 551.60,276.1 552.00,274.9 552.40,274.0 552.80,275.5 553.20,273.1 553.60,278.8 554.00,273.1 554.40,277.1 554.80,275.2 555.20,277.2 555.60,275.9 556.00,277.5 556.40,274.8 556.80,275.7 557.20,275.1 557.60,277.6 558.00,276.8 558.40,275.5 558.80,272.3 559.20,279.1 559.60,277.2 560.00,277.5 560.40,276.1 560.80,275.2 561.20,274.4 561.60,272.3 562.00,275.1 562.40,275.7 562.80,272.7 563.20,276.7 563.60,275.7 564.00,275.6 564.40,274.4 564.80,273.2 565.20,275.4 565.60,276.3 566.00,273.8 566.40,273.6 566.80,275.1 567.20,275.2 567.60,275.6 568.00,275.9 568.40,275.5 568.80,275.5 569.20,273.0 569.60,273.6 570.00,273.6 570.40,278.1 570.80,274.7 571.20,275.5 571.60,276.7 572.00,278.3 572.40,276.5 572.80,277.4 573.20,274.9 573.60,280.4 574.00,276.5 574.40,273.9 574.80,277.4 575.20,275.9 575.60,278.5 576.00,277.2 576.40,274.4 576.80,275.6 577.20,273.7 577.60,276.0 578.00,272.7 578.40,275.0 578.80,274.7 579.20,276.4 579.60,274.2 580.00,276.4 580.40,273.9 580.80,279.0 581.20,275.0 581.60,272.1 582.00,273.1 582.40,274.8 582.80,275.5 583.20,272.9 583.60,275.2 584.00,275.5 584.40,275.7 584.80,275.3 585.20,273.7 585.60,276.4 586.00,273.8 586.40,273.5 586.80,274.6 587.20,278.9 587.60,275.4 588.00,277.0 588.40,273.2 588.80,277.9 589.20,273.8 589.60,277.1 590.00,275.4 590.40,275.0 590.80,276.7 591.20,276.0 591.60,275.1 592.00,277.2 592.40,275.5 592.80,272.9 593.20,275.5 593.60,275.8 594.00,274.9 594.40,275.9 594.80,272.5 595.20,275.8 595.60,274.9 596.00,276.6 596.40,276.5 596.80,273.6 597.20,277.6 597.60,273.3 598.00,273.8 598.40,276.4 598.80,272.5 599.20,273.2 599.60,274.4 600.00,276.2" fill="none" stroke="#000000" stroke-width="1.3" stroke-linejoin="round"/>
<polyline points="48.00,400.5 48.40,393.5 48.80,394.4 49.20,393.7 49.60,395.6 50.00,394.3 50.40,396.5 50.80,394.5 51.20,394.5 51.60,392.2 52.00,396.9 52.40,395.8 52.80,394.8 53.20,394.8 53.60,396.0 54.00,394.7 54.40,394.3 54.80,392.5 55.20,395.2 55.60,397.0 56.00,394.1 56.40,394.0 56.80,395.3 57.20,393.7 57.60,396.4 58.00,389.7 58.40,391.5 58.80,396.0 59.20,395.9 59.60,393.4 60.00,394.4 60.40,396.2 60.80,393.0 61.20,394.8 61.60,398.2 62.00,395.5 62.40,396.6 62.80,395.9 63.20,395.2 63.60,393.2 64.00,395.7 64.40,393.5 64.80,396.7 65.20,392.0 65.60,397.2 66.00,392.4 66.40,396.3 66.80,392.3 67.20,396.6 67.60,396.9 68.00,398.3 68.40,397.4 68.80,396.1 69.20,395.3 69.60,396.6 70.00,396.6 70.40,395.6 70.80,395.8 71.20,396.8 71.60,397.0 72.00,397.6 72.40,396.3 72.80,393.2 73.20,395.1 73.60,395.2 74.00,395.2 74.40,393.4 74.80,396.8 75.20,396.6 75.60,400.3 76.00,396.0 76.40,397.4 76.80,398.6 77.20,390.5 77.60,395.7 78.00,400.1 78.40,393.5 78.80,396.4 79.20,395.0 79.60,394.6 80.00,399.2 80.40,391.3 80.80,396.4 81.20,393.3 81.60,395.5 82.00,395.8 82.40,401.2 82.80,395.0 83.20,398.4 83.60,395.2 84.00,395.3 84.40,395.1 84.80,398.6 85.20,395.5 85.60,397.8 86.00,394.4 86.40,398.0 86.80,394.1 87.20,398.2 87.60,395.4 88.00,397.7 88.40,394.0 88.80,394.6 89.20,394.9 89.60,396.0 90.00,393.4 90.40,394.2 90.80,396.0 91.20,395.5 91.60,394.9 92.00,395.0 92.40,394.2 92.80,399.3 93.20,395.4 93.60,396.6 94.00,395.7 94.40,399.4 94.80,394.2 95.20,395.0 95.60,392.7 96.00,395.8 96.40,394.7 96.80,394.9 97.20,394.9 97.60,394.4 98.00,393.7 98.40,396.9 98.80,392.3 99.20,393.6 99.60,394.5 100.00,397.2 100.40,395.7 100.80,395.8 101.20,390.5 101.60,394.7 102.00,394.2 102.40,396.1 102.80,392.3 103.20,395.2 103.60,393.3 104.00,400.2 104.40,395.7 104.80,396.1 105.20,393.3 105.60,396.4 106.00,396.1 106.40,394.8 106.80,394.2 107.20,397.2 107.60,395.3 108.00,396.3 108.40,396.4 108.80,395.7 109.20,391.9 109.60,394.4 110.00,394.0 110.40,395.4 110.80,394.3 111.20,396.7 111.60,393.7 112.00,393.5 112.40,394.4 112.80,395.7 113.20,391.9 113.60,394.7 114.00,394.3 114.40,388.1 114.80,374.3 115.20,364.5 115.60,384.0 116.00,392.2 116.40,386.9 116.80,364.1 117.20,310.5 117.60,339.2 118.00,379.7 118.40,391.7 118.80,387.2 119.20,392.8 119.60,389.2 120.00,392.5 120.40,389.3 120.80,391.9 121.20,392.5 121.60,391.7 122.00,375.8 122.40,362.5 122.80,379.4 123.20,389.6 123.60,389.1 124.00,394.6 124.40,391.8 124.80,396.1 125.20,394.1 125.60,392.7 126.00,392.7 126.40,398.7 126.80,393.1 127.20,396.5 127.60,395.4 128.00,394.6 128.40,394.9 128.80,396.5 129.20,396.3 129.60,394.4 130.00,392.5 130.40,392.3 130.80,393.9 131.20,396.0 131.60,395.5 132.00,397.9 132.40,394.0 132.80,395.7 133.20,396.2 133.60,399.5 134.00,394.0 134.40,396.6 134.80,395.1 135.20,396.9 135.60,396.4 136.00,395.4 136.40,392.8 136.80,398.1 137.20,395.6 137.60,396.7 138.00,395.3 138.40,396.5 138.80,396.1 139.20,397.0 139.60,395.1 140.00,397.8 140.40,396.5 140.80,398.4 141.20,394.5 141.60,396.2 142.00,394.4 142.40,400.5 142.80,394.1 143.20,393.1 143.60,385.4 144.00,379.5 144.40,386.2 144.80,393.8 145.20,394.5 145.60,393.7 146.00,393.8 146.40,397.7 146.80,396.2 147.20,395.3 147.60,394.8 148.00,393.0 148.40,396.1 148.80,396.6 149.20,393.3 149.60,396.3 150.00,393.3 150.40,394.4 150.80,393.5 151.20,394.8 151.60,391.7 152.00,395.8 152.40,393.0 152.80,396.2 153.20,393.9 153.60,395.1 154.00,396.9 154.40,392.9 154.80,396.3 155.20,395.9 155.60,394.4 156.00,396.0 156.40,393.7 156.80,393.7 157.20,392.8 157.60,395.0 158.00,394.8 158.40,397.3 158.80,395.7 159.20,390.1 159.60,391.7 160.00,396.7 160.40,394.4 160.80,396.1 161.20,394.1 161.60,396.2 162.00,395.6 162.40,398.0 162.80,393.6 163.20,397.8 163.60,392.4 164.00,394.7 164.40,392.1 164.80,396.9 165.20,397.0 165.60,395.8 166.00,395.0 166.40,395.4 166.80,394.9 167.20,395.6 167.60,396.2 168.00,397.6 168.40,389.4 168.80,398.0 169.20,393.5 169.60,395.3 170.00,395.0 170.40,395.3 170.80,392.7 171.20,395.1 171.60,393.8 172.00,396.8 172.40,396.0 172.80,395.9 173.20,394.3 173.60,398.5 174.00,394.1 174.40,397.8 174.80,394.3 175.20,395.5 175.60,393.8 176.00,396.8 176.40,393.0 176.80,391.9 177.20,392.4 177.60,395.9 178.00,395.2 178.40,396.0 178.80,393.1 179.20,396.3 179.60,393.9 180.00,399.8 180.40,395.0 180.80,394.5 181.20,394.6 181.60,397.2 182.00,393.8 182.40,395.2 182.80,391.7 183.20,395.6 183.60,395.6 184.00,397.2 184.40,392.9 184.80,395.5 185.20,390.8 185.60,393.9 186.00,395.4 186.40,398.5 186.80,395.3 187.20,397.9 187.60,394.7 188.00,395.4 188.40,392.9 188.80,394.6 189.20,393.3 189.60,397.5 190.00,397.4 190.40,395.6 190.80,394.7 191.20,396.2 191.60,392.8 192.00,393.5 192.40,391.1 192.80,393.5 193.20,394.7 193.60,395.8 194.00,394.1 194.40,399.1 194.80,396.1 195.20,394.4 195.60,395.4 196.00,394.5 196.40,395.1 196.80,397.2 197.20,392.5 197.60,393.7 198.00,394.8 198.40,394.9 198.80,395.1 199.20,396.4 199.60,394.9 200.00,395.5 200.40,392.9 200.80,373.5 201.20,376.3 201.60,392.0 202.00,395.2 202.40,396.2 202.80,394.0 203.20,395.1 203.60,394.5 204.00,394.4 204.40,392.3 204.80,399.0 205.20,393.2 205.60,396.5 206.00,392.7 206.40,396.4 206.80,394.0 207.20,399.6 207.60,393.6 208.00,395.0 208.40,396.5 208.80,397.3 209.20,391.6 209.60,395.8 210.00,395.4 210.40,393.6 210.80,394.4 211.20,394.5 211.60,392.4 212.00,395.5 212.40,393.1 212.80,393.0 213.20,397.8 213.60,395.5 214.00,391.5 214.40,396.1 214.80,393.4 215.20,392.8 215.60,360.9 216.00,325.5 216.40,359.1 216.80,391.1 217.20,392.7 217.60,394.6 218.00,397.0 218.40,394.4 218.80,393.2 219.20,395.7 219.60,395.0 220.00,395.8 220.40,395.8 220.80,396.7 221.20,394.7 221.60,393.4 222.00,393.1 222.40,396.3 222.80,392.1 223.20,396.2 223.60,394.5 224.00,393.7 224.40,396.2 224.80,394.8 225.20,393.9 225.60,397.2 226.00,392.7 226.40,392.8 226.80,392.3 227.20,394.3 227.60,395.7 228.00,393.3 228.40,390.2 228.80,395.5 229.20,390.8 229.60,391.8 230.00,391.2 230.40,387.0 230.80,381.2 231.20,348.6 231.60,272.5 232.00,309.6 232.40,369.5 232.80,386.8 233.20,387.5 233.60,387.7 234.00,377.6 234.40,360.5 234.80,364.2 235.20,382.0 235.60,389.6 236.00,393.7 236.40,391.4 236.80,394.6 237.20,391.0 237.60,396.4 238.00,394.6 238.40,398.6 238.80,396.1 239.20,398.0 239.60,395.8 240.00,394.5 240.40,396.1 240.80,394.9 241.20,391.7 241.60,397.7 242.00,395.3 242.40,398.0 242.80,392.1 243.20,397.5 243.60,394.4 244.00,396.4 244.40,392.8 244.80,400.6 245.20,395.6 245.60,395.0 246.00,393.4 246.40,394.3 246.80,397.2 247.20,395.1 247.60,393.9 248.00,396.7 248.40,392.9 248.80,394.8 249.20,395.6 249.60,394.6 250.00,385.3 250.40,375.4 250.80,360.5 251.20,365.4 251.60,379.8 252.00,389.9 252.40,390.8 252.80,389.5 253.20,385.9 253.60,372.1 254.00,351.0 254.40,356.4 254.80,372.0 255.20,384.9 255.60,388.1 256.00,390.3 256.40,388.2 256.80,393.8 257.20,389.4 257.60,391.3 258.00,388.8 258.40,387.9 258.80,390.8 259.20,392.7 259.60,393.3 260.00,396.3 260.40,387.9 260.80,375.5 261.20,376.6 261.60,390.9 262.00,394.0 262.40,396.6 262.80,394.3 263.20,395.0 263.60,396.1 264.00,393.6 264.40,394.9 264.80,396.5 265.20,392.6 265.60,393.9 266.00,394.3 266.40,395.2 266.80,394.8 267.20,396.5 267.60,393.5 268.00,395.9 268.40,396.6 268.80,394.8 269.20,394.4 269.60,395.1 270.00,394.9 270.40,398.5 270.80,392.5 271.20,397.5 271.60,396.0 272.00,395.8 272.40,393.6 272.80,395.2 273.20,393.9 273.60,397.2 274.00,395.3 274.40,395.5 274.80,395.4 275.20,395.5 275.60,391.7 276.00,397.7 276.40,396.6 276.80,394.2 277.20,396.2 277.60,395.8 278.00,397.8 278.40,398.5 278.80,391.4 279.20,393.7 279.60,395.4 280.00,395.5 280.40,392.6 280.80,397.1 281.20,395.5 281.60,394.9 282.00,392.6 282.40,396.0 282.80,395.4 283.20,391.8 283.60,394.0 284.00,394.6 284.40,390.2 284.80,394.2 285.20,388.2 285.60,392.3 286.00,392.5 286.40,392.8 286.80,391.6 287.20,389.3 287.60,386.3 288.00,382.8 288.40,375.1 288.80,366.6 289.20,351.4 289.60,336.9 290.00,327.5 290.40,330.9 290.80,338.3 291.20,351.6 291.60,362.7 292.00,377.4 292.40,382.9 292.80,386.5 293.20,392.7 293.60,391.0 294.00,386.5 294.40,389.9 294.80,388.7 295.20,392.5 295.60,392.9 296.00,396.2 296.40,393.1 296.80,393.3 297.20,393.9 297.60,394.9 298.00,393.4 298.40,396.3 298.80,395.0 299.20,395.0 299.60,394.4 300.00,396.9 300.40,391.4 300.80,397.7 301.20,396.7 301.60,393.3 302.00,390.8 302.40,398.0 302.80,391.6 303.20,394.6 303.60,397.4 304.00,394.8 304.40,393.6 304.80,394.2 305.20,394.7 305.60,396.3 306.00,396.0 306.40,395.7 306.80,395.0 307.20,396.2 307.60,391.2 308.00,394.5 308.40,394.5 308.80,390.7 309.20,375.5 309.60,379.1 310.00,393.0 310.40,394.0 310.80,395.6 311.20,396.7 311.60,393.4 312.00,396.1 312.40,393.3 312.80,395.8 313.20,393.7 313.60,396.6 314.00,394.8 314.40,393.7 314.80,394.3 315.20,395.1 315.60,393.0 316.00,397.6 316.40,395.6 316.80,396.8 317.20,390.6 317.60,394.9 318.00,395.3 318.40,393.5 318.80,395.4 319.20,395.5 319.60,393.6 320.00,396.6 320.40,393.1 320.80,396.1 321.20,392.5 321.60,391.8 322.00,396.7 322.40,391.6 322.80,391.9 323.20,396.9 323.60,393.1 324.00,391.5 324.40,394.6 324.80,397.1 325.20,394.2 325.60,397.5 326.00,394.3 326.40,397.4 326.80,393.2 327.20,393.7 327.60,396.7 328.00,395.9 328.40,394.0 328.80,392.9 329.20,391.9 329.60,393.2 330.00,395.8 330.40,394.2 330.80,395.2 331.20,395.0 331.60,397.3 332.00,394.1 332.40,395.1 332.80,399.1 333.20,395.2 333.60,394.0 334.00,395.5 334.40,398.1 334.80,397.6 335.20,392.6 335.60,394.7 336.00,392.1 336.40,397.6 336.80,396.1 337.20,393.9 337.60,396.7 338.00,394.4 338.40,394.0 338.80,397.0 339.20,395.3 339.60,391.7 340.00,397.4 340.40,397.0 340.80,397.9 341.20,395.0 341.60,394.1 342.00,395.0 342.40,399.7 342.80,395.8 343.20,399.0 343.60,393.7 344.00,397.8 344.40,396.5 344.80,393.4 345.20,395.8 345.60,396.9 346.00,395.4 346.40,396.5 346.80,394.8 347.20,396.1 347.60,394.9 348.00,396.4 348.40,396.1 348.80,397.7 349.20,395.3 349.60,397.3 350.00,393.9 350.40,397.4 350.80,394.5 351.20,398.5 351.60,395.6 352.00,398.0 352.40,394.6 352.80,398.1 353.20,395.5 353.60,397.4 354.00,394.1 354.40,392.4 354.80,394.4 355.20,396.4 355.60,396.3 356.00,400.1 356.40,394.6 356.80,395.7 357.20,395.5 357.60,394.1 358.00,393.9 358.40,397.7 358.80,395.8 359.20,395.6 359.60,393.9 360.00,396.8 360.40,393.3 360.80,397.7 361.20,395.5 361.60,399.8 362.00,390.4 362.40,398.6 362.80,393.9 363.20,398.8 363.60,394.0 364.00,397.3 364.40,395.0 364.80,395.5 365.20,395.3 365.60,395.3 366.00,396.1 366.40,398.5 366.80,397.0 367.20,392.8 367.60,395.3 368.00,394.6 368.40,394.1 368.80,398.4 369.20,394.0 369.60,394.6 370.00,395.7 370.40,395.7 370.80,397.0 371.20,397.3 371.60,396.6 372.00,398.5 372.40,394.7 372.80,396.3 373.20,393.2 373.60,396.7 374.00,399.4 374.40,397.6 374.80,393.5 375.20,384.5 375.60,379.5 376.00,388.8 376.40,395.0 376.80,397.9 377.20,390.9 377.60,393.2 378.00,396.2 378.40,393.7 378.80,395.5 379.20,394.0 379.60,396.6 380.00,398.6 380.40,394.5 380.80,397.5 381.20,395.1 381.60,397.5 382.00,398.2 382.40,399.0 382.80,393.2 383.20,395.2 383.60,395.1 384.00,398.0 384.40,394.6 384.80,394.9 385.20,396.4 385.60,396.1 386.00,395.9 386.40,396.9 386.80,395.7 387.20,395.1 387.60,396.8 388.00,396.3 388.40,394.9 388.80,396.9 389.20,396.3 389.60,397.6 390.00,398.3 390.40,394.5 390.80,394.1 391.20,396.0 391.60,394.5 392.00,395.5 392.40,398.9 392.80,393.0 393.20,395.2 393.60,399.4 394.00,397.0 394.40,397.7 394.80,392.9 395.20,394.4 395.60,396.5 396.00,396.2 396.40,399.3 396.80,396.8 397.20,395.1 397.60,395.2 398.00,395.3 398.40,393.2 398.80,393.3 399.20,395.9 399.60,394.9 400.00,397.0 400.40,393.7 400.80,394.0 401.20,395.8 401.60,396.2 402.00,394.4 402.40,396.7 402.80,394.4 403.20,397.4 403.60,391.1 404.00,398.8 404.40,394.6 404.80,398.5 405.20,394.2 405.60,396.5 406.00,396.9 406.40,395.0 406.80,395.4 407.20,395.7 407.60,398.1 408.00,399.1 408.40,398.0 408.80,396.2 409.20,395.1 409.60,397.4 410.00,396.8 410.40,391.8 410.80,395.7 411.20,395.0 411.60,393.6 412.00,398.9 412.40,395.8 412.80,401.0 413.20,396.6 413.60,395.4 414.00,392.8 414.40,393.1 414.80,379.1 415.20,372.5 415.60,388.0 416.00,394.7 416.40,392.7 416.80,396.5 417.20,395.3 417.60,400.0 418.00,395.4 418.40,395.9 418.80,395.9 419.20,396.5 419.60,391.6 420.00,396.9 420.40,394.1 420.80,398.4 421.20,398.4 421.60,396.1 422.00,391.4 422.40,395.4 422.80,393.7 423.20,396.2 423.60,395.6 424.00,397.8 424.40,392.8 424.80,394.6 425.20,392.8 425.60,398.6 426.00,396.9 426.40,393.5 426.80,388.7 427.20,391.3 427.60,386.9 428.00,391.6 428.40,394.1 428.80,393.9 429.20,398.0 429.60,394.9 430.00,397.1 430.40,396.0 430.80,393.6 431.20,395.6 431.60,392.8 432.00,396.1 432.40,396.7 432.80,394.7 433.20,392.7 433.60,398.5 434.00,395.4 434.40,394.9 434.80,393.3 435.20,395.4 435.60,392.7 436.00,394.0 436.40,393.4 436.80,395.8 437.20,395.4 437.60,395.5 438.00,396.9 438.40,397.8 438.80,394.9 439.20,395.3 439.60,396.5 440.00,398.9 440.40,396.2 440.80,394.3 441.20,388.5 441.60,390.2 442.00,394.7 442.40,397.3 442.80,393.8 443.20,395.3 443.60,395.0 444.00,394.6 444.40,393.9 444.80,395.0 445.20,393.6 445.60,396.1 446.00,393.5 446.40,397.1 446.80,395.2 447.20,396.8 447.60,394.8 448.00,396.9 448.40,398.7 448.80,399.3 449.20,394.5 449.60,396.8 450.00,393.2 450.40,396.9 450.80,395.1 451.20,396.1 451.60,394.3 452.00,395.9 452.40,396.6 452.80,391.5 453.20,391.8 453.60,386.7 454.00,385.8 454.40,392.1 454.80,392.0 455.20,392.4 455.60,394.3 456.00,393.7 456.40,395.4 456.80,398.1 457.20,390.2 457.60,393.5 458.00,395.3 458.40,397.2 458.80,394.2 459.20,396.3 459.60,395.4 460.00,396.6 460.40,396.3 460.80,397.1 461.20,393.2 461.60,394.6 462.00,394.4 462.40,390.3 462.80,386.4 463.20,389.4 463.60,390.8 464.00,396.1 464.40,393.4 464.80,394.4 465.20,394.0 465.60,396.1 466.00,398.0 466.40,396.1 466.80,397.1 467.20,397.6 467.60,392.1 468.00,397.9 468.40,394.1 468.80,394.4 469.20,392.9 469.60,398.7 470.00,392.9 470.40,394.7 470.80,396.6 471.20,398.2 471.60,392.6 472.00,396.2 472.40,393.6 472.80,395.9 473.20,396.3 473.60,395.2 474.00,394.9 474.40,398.4 474.80,392.5 475.20,396.0 475.60,395.8 476.00,395.0 476.40,394.0 476.80,394.7 477.20,393.8 477.60,395.3 478.00,395.5 478.40,397.6 478.80,390.9 479.20,385.4 479.60,382.5 480.00,388.6 480.40,391.1 480.80,394.3 481.20,393.2 481.60,396.7 482.00,392.7 482.40,397.9 482.80,398.2 483.20,397.9 483.60,393.2 484.00,396.4 484.40,394.7 484.80,396.3 485.20,394.7 485.60,396.3 486.00,394.1 486.40,396.4 486.80,391.9 487.20,397.5 487.60,396.6 488.00,395.4 488.40,396.3 488.80,397.1 489.20,393.6 489.60,396.4 490.00,397.0 490.40,394.4 490.80,392.2 491.20,395.2 491.60,394.9 492.00,396.8 492.40,395.8 492.80,395.0 493.20,393.0 493.60,396.9 494.00,393.0 494.40,396.3 494.80,393.7 495.20,395.8 495.60,397.9 496.00,398.2 496.40,396.3 496.80,394.4 497.20,395.3 497.60,395.8 498.00,394.8 498.40,397.9 498.80,392.4 499.20,396.5 499.60,395.4 500.00,395.2 500.40,397.8 500.80,394.4 501.20,395.0 501.60,396.2 502.00,392.1 502.40,394.4 502.80,392.7 503.20,398.3 503.60,396.5 504.00,396.7 504.40,395.6 504.80,392.6 505.20,393.2 505.60,395.7 506.00,397.1 506.40,397.5 506.80,397.8 507.20,397.7 507.60,396.1 508.00,394.3 508.40,395.2 508.80,394.5 509.20,395.8 509.60,394.2 510.00,394.0 510.40,395.2 510.80,393.9 511.20,399.0 511.60,394.1 512.00,396.5 512.40,393.7 512.80,398.9 513.20,394.4 513.60,397.4 514.00,398.0 514.40,392.5 514.80,394.0 515.20,396.0 515.60,396.6 516.00,395.4 516.40,395.1 516.80,393.4 517.20,396.0 517.60,394.9 518.00,396.8 518.40,391.6 518.80,393.0 519.20,398.8 519.60,395.7 520.00,395.2 520.40,397.4 520.80,398.3 521.20,397.3 521.60,397.2 522.00,394.9 522.40,396.9 522.80,393.5 523.20,398.0 523.60,394.9 524.00,398.2 524.40,397.3 524.80,395.6 525.20,394.1 525.60,397.1 526.00,395.2 526.40,399.1 526.80,395.7 527.20,397.2 527.60,393.7 528.00,399.1 528.40,395.8 528.80,395.9 529.20,393.4 529.60,398.1 530.00,394.7 530.40,395.9 530.80,394.6 531.20,397.8 531.60,395.1 532.00,392.8 532.40,395.4 532.80,395.1 533.20,397.4 533.60,397.0 534.00,394.6 534.40,396.6 534.80,397.2 535.20,396.1 535.60,395.7 536.00,396.0 536.40,399.6 536.80,396.6 537.20,392.0 537.60,398.2 538.00,401.5 538.40,395.2 538.80,401.1 539.20,396.4 539.60,396.9 540.00,395.4 540.40,394.5 540.80,394.4 541.20,393.1 541.60,393.3 542.00,396.1 542.40,395.0 542.80,395.4 543.20,396.6 543.60,394.3 544.00,396.1 544.40,394.3 544.80,395.5 545.20,395.7 545.60,393.0 546.00,393.8 546.40,394.2 546.80,394.4 547.20,396.2 547.60,397.4 548.00,399.9 548.40,397.8 548.80,397.3 549.20,395.3 549.60,398.5 550.00,394.4 550.40,396.8 550.80,393.5 551.20,396.9 551.60,397.7 552.00,394.1 552.40,394.5 552.80,394.7 553.20,397.0 553.60,399.3 554.00,394.4 554.40,391.7 554.80,396.4 555.20,396.7 555.60,392.4 556.00,396.7 556.40,393.9 556.80,392.6 557.20,396.3 557.60,397.0 558.00,393.7 558.40,395.4 558.80,394.0 559.20,396.2 559.60,396.1 560.00,394.4 560.40,395.5 560.80,397.0 561.20,391.8 561.60,398.2 562.00,394.4 562.40,395.1 562.80,394.9 563.20,393.0 563.60,394.6 564.00,392.0 564.40,393.7 564.80,398.5 565.20,396.6 565.60,395.6 566.00,393.1 566.40,397.3 566.80,395.2 567.20,398.1 567.60,396.0 568.00,397.1 568.40,396.1 568.80,393.5 569.20,397.1 569.60,393.3 570.00,394.5 570.40,395.5 570.80,395.1 571.20,396.8 571.60,395.7 572.00,397.2 572.40,396.0 572.80,395.8 573.20,391.7 573.60,393.1 574.00,390.9 574.40,396.4 574.80,394.9 575.20,396.2 575.60,395.1 576.00,395.9 576.40,393.3 576.80,393.6 577.20,391.1 577.60,398.6 578.00,396.2 578.40,393.3 578.80,394.3 579.20,398.4 579.60,397.5 580.00,394.9 580.40,395.6 580.80,397.9 581.20,392.9 581.60,394.7 582.00,394.2 582.40,396.2 582.80,397.8 583.20,397.2 583.60,393.2 584.00,394.9 584.40,399.1 584.80,398.1 585.20,394.6 585.60,395.9 586.00,393.1 586.40,395.7 586.80,396.3 587.20,397.3 587.60,396.3 588.00,397.7 588.40,394.4 588.80,397.1 589.20,396.3 589.60,396.3 590.00,393.2 590.40,397.1 590.80,396.5 591.20,397.0 591.60,395.1 592.00,395.1 592.40,394.8 592.80,398.1 593.20,394.5 593.60,393.1 594.00,394.8 594.40,391.6 594.80,395.6 595.20,395.9 595.60,396.2 596.00,397.8 596.40,396.1 596.80,399.5 597.20,394.6 597.60,395.4 598.00,395.2 598.40,395.9 598.80,394.7 599.20,395.6 599.60,395.7 600.00,395.5" fill="none" stroke="#0000d8" stroke-width="1.3" stroke-linejoin="round"/>
<rect x="113.5" y="27.3" width="8.0" height="9.9" class="sq"/>
<rect x="105.4" y="108.0" width="8.0" height="9.9" class="sq"/>
<rect x="119.1" y="108.8" width="8.0" height="9.9" class="sq"/>
<rect x="139.8" y="128.6" width="8.0" height="9.9" class="sq"/>
<rect x="233.5" y="103.0" width="8.0" height="9.9" class="sq"/>
<rect x="243.6" y="113.5" width="8.0" height="9.9" class="sq"/>
<rect x="253.0" y="80.0" width="8.0" height="9.9" class="sq"/>
<rect x="259.7" y="102.2" width="8.0" height="9.9" class="sq"/>
<rect x="286.2" y="36.8" width="8.0" height="9.9" class="sq"/>
<rect x="476.0" y="130.4" width="8.0" height="9.9" class="sq"/>
<rect x="113.9" y="158.5" width="8.0" height="9.9" class="sq"/>
<rect x="108.4" y="235.7" width="8.0" height="9.9" class="sq"/>
<rect x="120.7" y="234.7" width="8.0" height="9.9" class="sq"/>
<rect x="140.2" y="248.7" width="8.0" height="9.9" class="sq"/>
<rect x="232.9" y="233.9" width="8.0" height="9.9" class="sq"/>
<rect x="243.8" y="244.4" width="8.0" height="9.9" class="sq"/>
<rect x="251.2" y="207.8" width="8.0" height="9.9" class="sq"/>
<rect x="257.6" y="236.2" width="8.0" height="9.9" class="sq"/>
<rect x="286.5" y="180.9" width="8.0" height="9.9" class="sq"/>
<rect x="475.0" y="248.2" width="8.0" height="9.9" class="sq"/>
<rect x="113.3" y="293.2" width="8.0" height="9.9" class="sq"/>
<rect x="105.6" y="354.6" width="8.0" height="9.9" class="sq"/>
<rect x="121.9" y="336.2" width="8.0" height="9.9" class="sq"/>
<rect x="140.3" y="358.6" width="8.0" height="9.9" class="sq"/>
<rect x="234.2" y="341.6" width="8.0" height="9.9" class="sq"/>
<rect x="244.2" y="345.2" width="8.0" height="9.9" class="sq"/>
<rect x="251.1" y="321.9" width="8.0" height="9.9" class="sq"/>
<rect x="258.7" y="344.4" width="8.0" height="9.9" class="sq"/>
<rect x="286.2" y="310.4" width="8.0" height="9.9" class="sq"/>
<rect x="475.0" y="362.2" width="8.0" height="9.9" class="sq"/>
<path d="M200.2,121.1 L204.3,129.4 L196.1,129.4 Z" class="tr"/>
<path d="M215.0,111.2 L219.1,119.0 L210.9,119.0 Z" class="tr"/>
<path d="M231.8,47.4 L235.9,54.7 L227.7,54.7 Z" class="tr"/>
<path d="M310.3,127.2 L314.4,135.1 L306.2,135.1 Z" class="tr"/>
<path d="M413.0,127.8 L417.1,136.2 L408.9,136.2 Z" class="tr"/>
<path d="M201.0,232.8 L205.1,241.1 L196.9,241.1 Z" class="tr"/>
<path d="M217.9,222.1 L222.0,230.4 L213.8,230.4 Z" class="tr"/>
<path d="M229.7,162.4 L233.8,169.8 L225.6,169.8 Z" class="tr"/>
<path d="M308.5,245.0 L312.6,253.2 L304.4,253.2 Z" class="tr"/>
<path d="M376.0,245.0 L380.1,253.2 L371.9,253.2 Z" class="tr"/>
<path d="M415.3,244.0 L419.4,252.1 L411.2,252.1 Z" class="tr"/>
<path d="M201.0,357.1 L205.1,365.4 L196.9,365.4 Z" class="tr"/>
<path d="M214.3,304.5 L218.4,313.3 L210.2,313.3 Z" class="tr"/>
<path d="M235.5,278.8 L239.6,286.9 L231.4,286.9 Z" class="tr"/>
<path d="M308.5,359.5 L312.6,367.8 L304.4,367.8 Z" class="tr"/>
<path d="M374.2,361.8 L378.3,370.0 L370.1,370.0 Z" class="tr"/>
<path d="M414.8,351.3 L418.9,358.8 L410.7,358.8 Z" class="tr"/>
<rect x="47" y="3" width="554" height="410" fill="none" stroke="#000" stroke-width="2"/>
<g stroke="#000" stroke-width="2"><line x1="47.00" y1="413" x2="47.00" y2="421" /><line x1="81.62" y1="413" x2="81.62" y2="418" /><line x1="116.25" y1="413" x2="116.25" y2="421" /><line x1="150.88" y1="413" x2="150.88" y2="418" /><line x1="185.50" y1="413" x2="185.50" y2="421" /><line x1="220.12" y1="413" x2="220.12" y2="418" /><line x1="254.75" y1="413" x2="254.75" y2="421" /><line x1="289.38" y1="413" x2="289.38" y2="418" /><line x1="324.00" y1="413" x2="324.00" y2="421" /><line x1="358.62" y1="413" x2="358.62" y2="418" /><line x1="393.25" y1="413" x2="393.25" y2="421" /><line x1="427.88" y1="413" x2="427.88" y2="418" /><line x1="462.50" y1="413" x2="462.50" y2="421" /><line x1="497.12" y1="413" x2="497.12" y2="418" /><line x1="531.75" y1="413" x2="531.75" y2="421" /><line x1="566.38" y1="413" x2="566.38" y2="418" /><line x1="601.00" y1="413" x2="601.00" y2="421" /></g>
<text x="47.00" y="440" class="tl">10</text><text x="116.25" y="440" class="tl">20</text><text x="185.50" y="440" class="tl">30</text><text x="254.75" y="440" class="tl">40</text><text x="324.00" y="440" class="tl">50</text><text x="393.25" y="440" class="tl">60</text><text x="462.50" y="440" class="tl">70</text><text x="531.75" y="440" class="tl">80</text><text x="600.30" y="440" class="tl">90</text>
<text class="b" x="282" y="477.5" font-size="23" textLength="82.5" lengthAdjust="spacingAndGlyphs">2-Theta</text>
<text class="b" font-size="25" transform="translate(20.6,309) rotate(-90)" textLength="161" lengthAdjust="spacingAndGlyphs">Intensity(a.u.)</text>
<text class="r" x="55.6" y="133.7" font-size="19" fill="#111" stroke="#111" stroke-width="0.4" textLength="23.2" lengthAdjust="spacing">(c)</text>
<text class="r" x="54.5" y="253.7" font-size="19" fill="#111" stroke="#111" stroke-width="0.4" textLength="25.2" lengthAdjust="spacing">(b)</text>
<text class="r" x="54.5" y="373.7" font-size="19" fill="#111" stroke="#111" stroke-width="0.4" textLength="25.2" lengthAdjust="spacing">(a)</text>
<text class="b" x="407" y="111.3" font-size="18" fill="#cc0000" textLength="185.5" lengthAdjust="spacingAndGlyphs">MN5L after activation</text>
<text class="b" x="407" y="226.9" font-size="18" fill="#111" textLength="185.5" lengthAdjust="spacingAndGlyphs">MN2L after activation</text>
<text class="b" x="406.5" y="341.3" font-size="18" fill="#0000aa" textLength="185" lengthAdjust="spacingAndGlyphs">MN0L after activation</text>
<rect x="517.5" y="17.8" width="9.5" height="10.3" class="sq"/>
<text class="b" x="536.7" y="28" font-size="19" fill="#000" stroke="#000" stroke-width="0.35" textLength="26.6" lengthAdjust="spacingAndGlyphs">Mg</text>
<text class="r" x="562.6" y="35.8" font-size="10" fill="#000">2</text>
<text class="b" x="569.6" y="28" font-size="19" fill="#000" stroke="#000" stroke-width="0.35" textLength="18" lengthAdjust="spacingAndGlyphs">Ni</text>
<path d="M522.2,47.6 L526.4,56.2 L518.0,56.2 Z" class="tr"/>
<text class="b" x="535.3" y="56.9" font-size="19" fill="#000" stroke="#000" stroke-width="0.35" textLength="28" lengthAdjust="spacingAndGlyphs">Mg</text>
</svg>
</body></html>
